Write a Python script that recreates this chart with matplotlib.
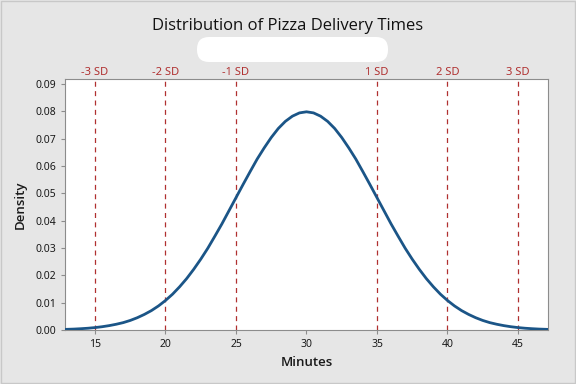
import matplotlib
matplotlib.use("Agg")
import matplotlib.pyplot as plt
from matplotlib.patches import FancyBboxPatch, Rectangle

plt.rcParams['font.family'] = ['Noto Sans', 'DejaVu Sans']

# Density curve (minutes, density)
minutes = [12.9, 13, 13.5, 14, 14.5, 15, 15.5, 16, 16.5, 17, 17.5, 18, 18.5, 19, 19.5,
           20, 20.5, 21, 21.5, 22, 22.5, 23, 23.5, 24, 24.5, 25, 25.5, 26, 26.5, 27,
           27.5, 28, 28.5, 29, 29.5, 30, 30.5, 31, 31.5, 32, 32.5, 33, 33.5, 34, 34.5,
           35, 35.5, 36, 36.5, 37, 37.5, 38, 38.5, 39, 39.5, 40, 40.5, 41, 41.5, 42,
           42.5, 43, 43.5, 44, 44.5, 45, 45.5, 46, 46.5, 47, 47.1]
density = [0.00023, 0.00025, 0.00034, 0.00048, 0.00065, 0.00089, 0.0012, 0.0016, 0.0021,
           0.0027, 0.0035, 0.0045, 0.0057, 0.0071, 0.0088, 0.0108, 0.0131, 0.0158, 0.0188,
           0.0222, 0.0259, 0.0299, 0.0343, 0.0388, 0.0436, 0.0484, 0.0532, 0.0579, 0.0625,
           0.0666, 0.0704, 0.0737, 0.0763, 0.0782, 0.0794, 0.0798,
           0.0794, 0.0782, 0.0763, 0.0737, 0.0704, 0.0666, 0.0625, 0.0579, 0.0532, 0.0484,
           0.0436, 0.0388, 0.0343, 0.0299, 0.0259, 0.0222, 0.0188, 0.0158, 0.0131, 0.0108,
           0.0088, 0.0071, 0.0057, 0.0045, 0.0035, 0.0027, 0.0021, 0.0016, 0.0012, 0.00089,
           0.00065, 0.00048, 0.00034, 0.00025, 0.00023]

sd_positions = [15, 20, 25, 35, 40, 45]
sd_labels = ['-3 SD', '-2 SD', '-1 SD', '1 SD', '2 SD', '3 SD']
x_ticks = [15, 20, 25, 30, 35, 40, 45]
y_ticks = [0.00, 0.01, 0.02, 0.03, 0.04, 0.05, 0.06, 0.07, 0.08, 0.09]

fig = plt.figure(figsize=(5.76, 3.84), dpi=100, facecolor='#e6e6e6')
fig.patches.append(Rectangle((0.002, 0.003), 0.996, 0.994, transform=fig.transFigure,
                             fill=False, edgecolor='#c8c8c8', linewidth=1))
ax = fig.add_axes([0.1128, 0.1406, 0.8386, 0.6537])
ax.set_facecolor('white')

ax.plot(minutes, density, color='#1b5587', linewidth=2.0, zorder=3)

red = '#b03030'
for xv, lab in zip(sd_positions, sd_labels):
    ax.axvline(xv, color=red, linestyle=(0, (4, 3.5)), linewidth=0.9, zorder=2)
    ax.text(xv, 1.005, lab, transform=ax.get_xaxis_transform(), ha='center', va='bottom',
            color=red, fontsize=8)

ax.set_xlim(12.87, 47.13)
ax.set_ylim(0, 0.0918)
ax.set_xticks(x_ticks)
ax.set_yticks(y_ticks)
ax.set_yticklabels([f'{v:.2f}' for v in y_ticks])
for s in ax.spines.values():
    s.set_color('#8c8c8c')
    s.set_linewidth(0.8)
ax.tick_params(axis='both', colors='#8c8c8c', labelcolor='#1a1a1a', labelsize=7.5,
               length=3, width=0.8, direction='out')

lab_font = dict(family=['Open Sans', 'DejaVu Sans'], fontsize=9.5, fontweight='semibold',
                color='#1a1a1a')
ax.set_xlabel('Minutes', labelpad=4, **lab_font)
ax.set_ylabel('Density', labelpad=6, **lab_font)

fig.text(0.5, 0.932, 'Distribution of Pizza Delivery Times', ha='center', va='center',
         fontsize=12, family=['Open Sans', 'DejaVu Sans'], fontweight='medium',
         color='#111111')

# white rounded blob under title (in inches)
fig.patches.append(FancyBboxPatch((1.97, 3.22), 1.91, 0.25,
                                  boxstyle='round,pad=0.0,rounding_size=0.12',
                                  transform=fig.dpi_scale_trans, facecolor='white',
                                  edgecolor='none'))

fig.savefig('out.png', dpi=100, facecolor=fig.get_facecolor())
